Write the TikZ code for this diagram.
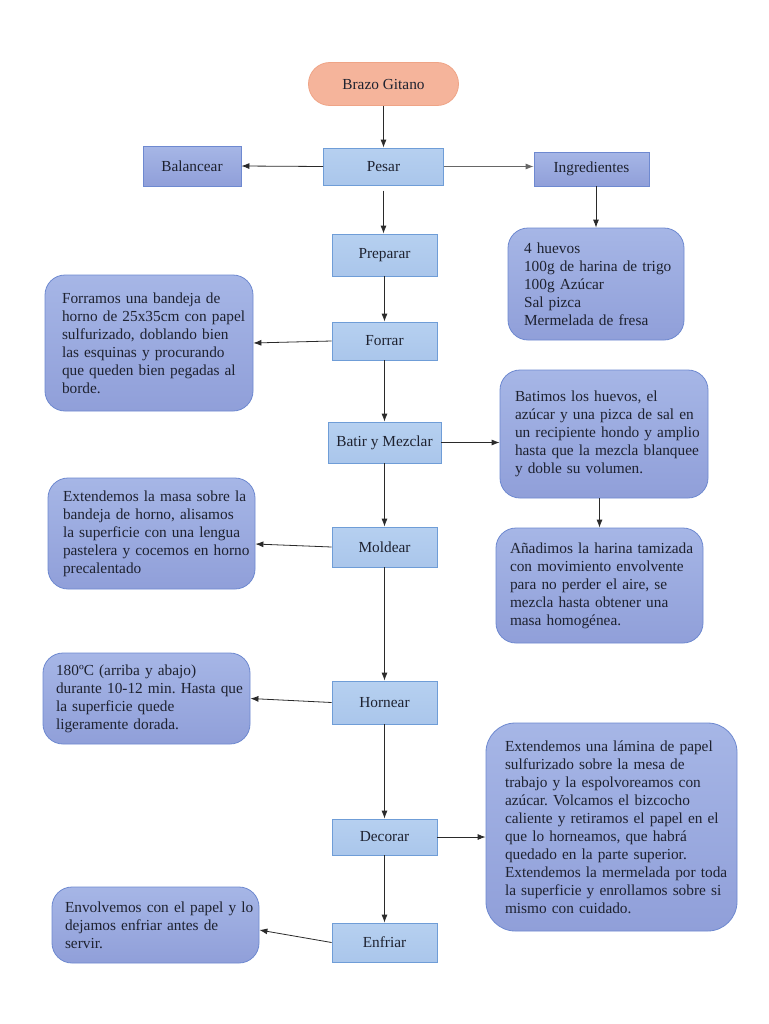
\documentclass[tikz,border=0pt]{standalone}
\usepackage{fontspec}
\setmainfont{Liberation Serif}
\usetikzlibrary{arrows.meta,calc}
\frenchspacing
\definecolor{txt}{HTML}{1E2230}
\definecolor{lightfill}{HTML}{AAC6EB}
\definecolor{lighttop}{HTML}{B6D0F0}
\definecolor{lightdraw}{HTML}{6F9DD7}
\definecolor{darktop}{HTML}{A6B6E6}
\definecolor{darkbot}{HTML}{909FD9}
\definecolor{darkdraw}{HTML}{6E89D0}
\definecolor{salmon}{HTML}{F5B49B}
\definecolor{salmondraw}{HTML}{EFA486}
\definecolor{arr}{HTML}{2A2A2A}
\tikzset{
  every node/.style={text=txt, font=\fontsize{11.5}{13.5}\selectfont},
  lightbox/.style={draw=lightdraw, line width=0.6pt, top color=lighttop, bottom color=lightfill, inner sep=0pt},
  darkbox/.style={draw=darkdraw, line width=0.6pt, top color=darktop, bottom color=darkbot, inner sep=0pt},
  textbox/.style={darkbox, rounded corners=15pt, align=left, inner ysep=0pt},
  startbox/.style={draw=salmondraw, line width=0.6pt, fill=salmon, rounded corners=16pt, inner sep=0pt},
  flow/.style={draw=arr, line width=0.6pt, -{Latex[length=6pt,width=4.5pt]}}
}
\begin{document}
\begin{tikzpicture}[x=0.75pt,y=-0.75pt]
\path[use as bounding box, fill=white] (0,0) rectangle (768,1024);

% main column
\node[startbox, minimum width=112.5pt, minimum height=32.25pt] (brazo) at (383.5,84) {Brazo Gitano};
\node[lightbox, minimum width=90pt, minimum height=27.75pt] (pesar) at (383.5,166.5) {Pesar};
\node[darkbox, minimum width=73.5pt, minimum height=30pt] (balancear) at (192,166) {Balancear};
\node[darkbox, minimum width=86.25pt, minimum height=25.5pt] (ingredientes) at (591.5,169) {Ingredientes};
\node[lightbox, minimum width=78.75pt, minimum height=31.5pt] (preparar) at (384.5,255) {Preparar};
\node[lightbox, minimum width=78.75pt, minimum height=28.5pt] (forrar) at (384.5,341) {Forrar};
\node[lightbox, minimum width=84.75pt, minimum height=30.75pt] (batir) at (384.5,442.5) {Batir y Mezclar};
\node[lightbox, minimum width=78.75pt, minimum height=30pt] (moldear) at (384.5,547) {Moldear};
\node[lightbox, minimum width=78.75pt, minimum height=32.25pt] (hornear) at (384.5,702.5) {Hornear};
\node[lightbox, minimum width=78.75pt, minimum height=27pt] (decorar) at (384.5,837) {Decorar};
\node[lightbox, minimum width=78.75pt, minimum height=29.25pt] (enfriar) at (384.5,942.5) {Enfriar};

% text boxes
\node[textbox, minimum width=132pt, minimum height=84pt, text width=108pt, inner xsep=12pt] (ingbox) at (596,284)
 {\mbox{4 huevos}\\\mbox{100g de harina de trigo}\\\mbox{100g Azúcar}\\\mbox{Sal pizca}\\\mbox{Mermelada de fresa}};
\node[textbox, minimum width=156pt, minimum height=102pt, text width=130.5pt, inner xsep=12.75pt] (forrarbox) at (149,343)
 {\mbox{Forramos una bandeja de}\\\mbox{horno de 25x35cm con papel}\\\mbox{sulfurizado, doblando bien}\\\mbox{las esquinas y procurando}\\\mbox{que queden bien pegadas al}\\\mbox{borde.}};
\node[textbox, minimum width=156pt, minimum height=96pt, text width=133.5pt, inner xsep=11.25pt] (batbox) at (604,434)
 {\mbox{Batimos los huevos, el}\\\mbox{azúcar y una pizca de sal en}\\\mbox{un recipiente hondo y amplio}\\\mbox{hasta que la mezcla blanquee}\\\mbox{y doble su volumen.}};
\node[textbox, minimum width=155.25pt, minimum height=86.25pt, text width=134.25pt, inner xsep=10.5pt] (anadbox) at (599.5,585.5)
 {\mbox{Añadimos la harina tamizada}\\\mbox{con movimiento envolvente}\\\mbox{para no perder el aire, se}\\\mbox{mezcla hasta obtener una}\\\mbox{masa homogénea.}};
\node[textbox, minimum width=155.25pt, minimum height=83.25pt, text width=132.75pt, inner xsep=11.25pt] (extbox) at (151.5,533.5)
 {\mbox{Extendemos la masa sobre la}\\\mbox{bandeja de horno, alisamos}\\\mbox{la superficie con una lengua}\\\mbox{pastelera y cocemos en horno}\\\mbox{precalentado}};
\node[textbox, minimum width=155.25pt, minimum height=68.25pt, text width=135.75pt, inner xsep=9.75pt] (hornbox) at (146.5,698.5)
 {\mbox{180ºC (arriba y abajo)}\\\mbox{durante 10-12 min. Hasta que}\\\mbox{la superficie quede}\\\mbox{ligeramente dorada.}};
\node[textbox, rounded corners=22pt, minimum width=188.25pt, minimum height=156pt, text width=159.75pt, inner xsep=14.25pt] (decbox) at (611.5,827)
 {\mbox{Extendemos una lámina de papel}\\\mbox{sulfurizado sobre la mesa de}\\\mbox{trabajo y la espolvoreamos con}\\\mbox{azúcar. Volcamos el bizcocho}\\\mbox{caliente y retiramos el papel en el}\\\mbox{que lo horneamos, que habrá}\\\mbox{quedado en la parte superior.}\\\mbox{Extendemos la mermelada por toda}\\\mbox{la superficie y enrollamos sobre si}\\\mbox{mismo con cuidado.}};
\node[textbox, minimum width=155.25pt, minimum height=57pt, text width=135.75pt, inner xsep=9.75pt] (envbox) at (155.5,925)
 {\mbox{Envolvemos con el papel y lo}\\\mbox{dejamos enfriar antes de}\\\mbox{servir.}};

% connectors
\draw[flow] (brazo.south) -- (brazo.south |- pesar.north);
\draw[flow] (pesar.west) -- (balancear.east);
\draw[flow, draw=gray!80!black] (pesar.east) -- (pesar.east -| ingredientes.west);
\draw[flow] (ingbox.north |- ingredientes.south) -- (ingbox.north);
\draw[flow, shorten <=4pt] (pesar.south) -- (pesar.south |- preparar.north);
\draw[flow] (preparar.south) -- (forrar.north);
\draw[flow] (forrar.west) -- (forrarbox.east);
\draw[flow] (forrar.south) -- (batir.north);
\draw[flow] (batir.east) -- (batir.east -| batbox.west);
\draw[flow] (anadbox.north |- batbox.south) -- (anadbox.north);
\draw[flow] (batir.south) -- (moldear.north);
\draw[flow] (moldear.west) -- ($(moldear.west -| extbox.east)+(0,-3)$);
\draw[flow] (moldear.south) -- (hornear.north);
\draw[flow] (hornear.west) -- (hornbox.east);
\draw[flow] (hornear.south) -- (decorar.north);
\draw[flow] (decorar.east) -- (decorar.east -| decbox.west);
\draw[flow] (decorar.south) -- (enfriar.north);
\draw[flow] (enfriar.west) -- ($(envbox.east)+(0,5)$);
\end{tikzpicture}
\end{document}
